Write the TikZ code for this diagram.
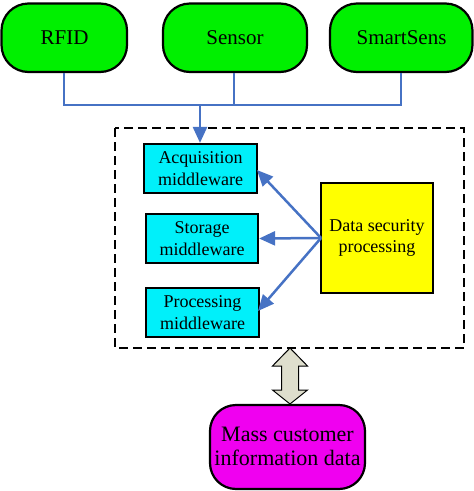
\documentclass[tikz,border=0pt]{standalone}
\usepackage{fontspec}
\setmainfont{Liberation Serif}
\usetikzlibrary{arrows.meta,calc}
\definecolor{grn}{RGB}{0,240,0}
\definecolor{cyn}{RGB}{0,240,250}
\definecolor{ylw}{RGB}{255,255,0}
\definecolor{mgt}{RGB}{240,0,240}
\definecolor{conn}{RGB}{70,114,196}
\definecolor{dbl}{RGB}{222,222,205}
\tikzset{
  srcbox/.style={draw=black,line width=2.2pt,fill=grn,rounded corners=27pt},
  srctext/.style={font=\fontsize{21}{24}\selectfont},
  mwbox/.style={draw=black,line width=2.2pt,fill=cyn,align=center,inner sep=0pt,font=\fontsize{18}{21.5}\selectfont},
  secbox/.style={draw=black,line width=2.2pt,fill=ylw,align=center,inner sep=0pt,font=\fontsize{18}{21.5}\selectfont},
  massbox/.style={draw=black,line width=2.2pt,fill=mgt,rounded corners=26pt},
  conline/.style={draw=conn,line width=2.5pt},
  conarrow/.style={draw=conn,line width=2.5pt,-{Triangle[length=16pt,width=14pt]}},
}
\begin{document}
\begin{tikzpicture}[x=1pt,y=-1pt]
\useasboundingbox (0,0) rectangle (474,491);
% source boxes
\draw[srcbox] (1.5,3.5) rectangle (127,72);
\node[srctext] (rfid) at (64.5,37.5) {RFID};
\draw[srcbox] (163,3.5) rectangle (307,72);
\node[srctext] (sensor) at (235,37.5) {Sensor};
\draw[srcbox] (330,3.5) rectangle (472.5,72);
\node[srctext] (smart) at (401.5,37.5) {SmartSens};
\coordinate (rfidb) at (64,73);
\coordinate (sensb) at (234,73);
\coordinate (smartb) at (401,73);
\coordinate (join) at (200,105);
% dashed box
\draw[black,line width=1.6pt,dash pattern=on 9pt off 5pt] (115,128) rectangle (464,348);
% middleware boxes
\node[mwbox,minimum width=113pt,minimum height=49pt] (acq) at (200.5,168.5) {Acquisition\\middleware};
\node[mwbox,minimum width=112pt,minimum height=49pt] (sto) at (202,238.5) {Storage\\middleware};
\node[mwbox,minimum width=113pt,minimum height=49pt] (pro) at (202.5,312.5) {Processing\\middleware};
\node[secbox,minimum width=112pt,minimum height=110pt] (sec) at (377,238) {Data security\\processing};
% connectors
\draw[conline] (rfidb) |- (join);
\draw[conline] (smartb) |- (join);
\draw[conline] (sensb) -- (234,105);
\draw[conarrow] (join) -- (join |- acq.north);
\coordinate (src) at (321,238);
\draw[conarrow] (src) -- (257,170);
\draw[conarrow] (src) -- (sto.east);
\draw[conarrow] (src) -- (258,311);
% mass
\draw[massbox] (210,405) rectangle (365,489);
\node[align=center,font=\fontsize{22}{24.5}\selectfont] (mass) at (287.5,446.5) {Mass customer\\information data};
% double arrow
\draw[black,line width=1pt,fill=dbl] (290,348) -- (307.5,366) -- (298.5,366) -- (298.5,390) -- (307.5,390) -- (290,404) -- (272.5,390) -- (281.5,390) -- (281.5,366) -- (272.5,366) -- cycle;
\end{tikzpicture}
\end{document}
